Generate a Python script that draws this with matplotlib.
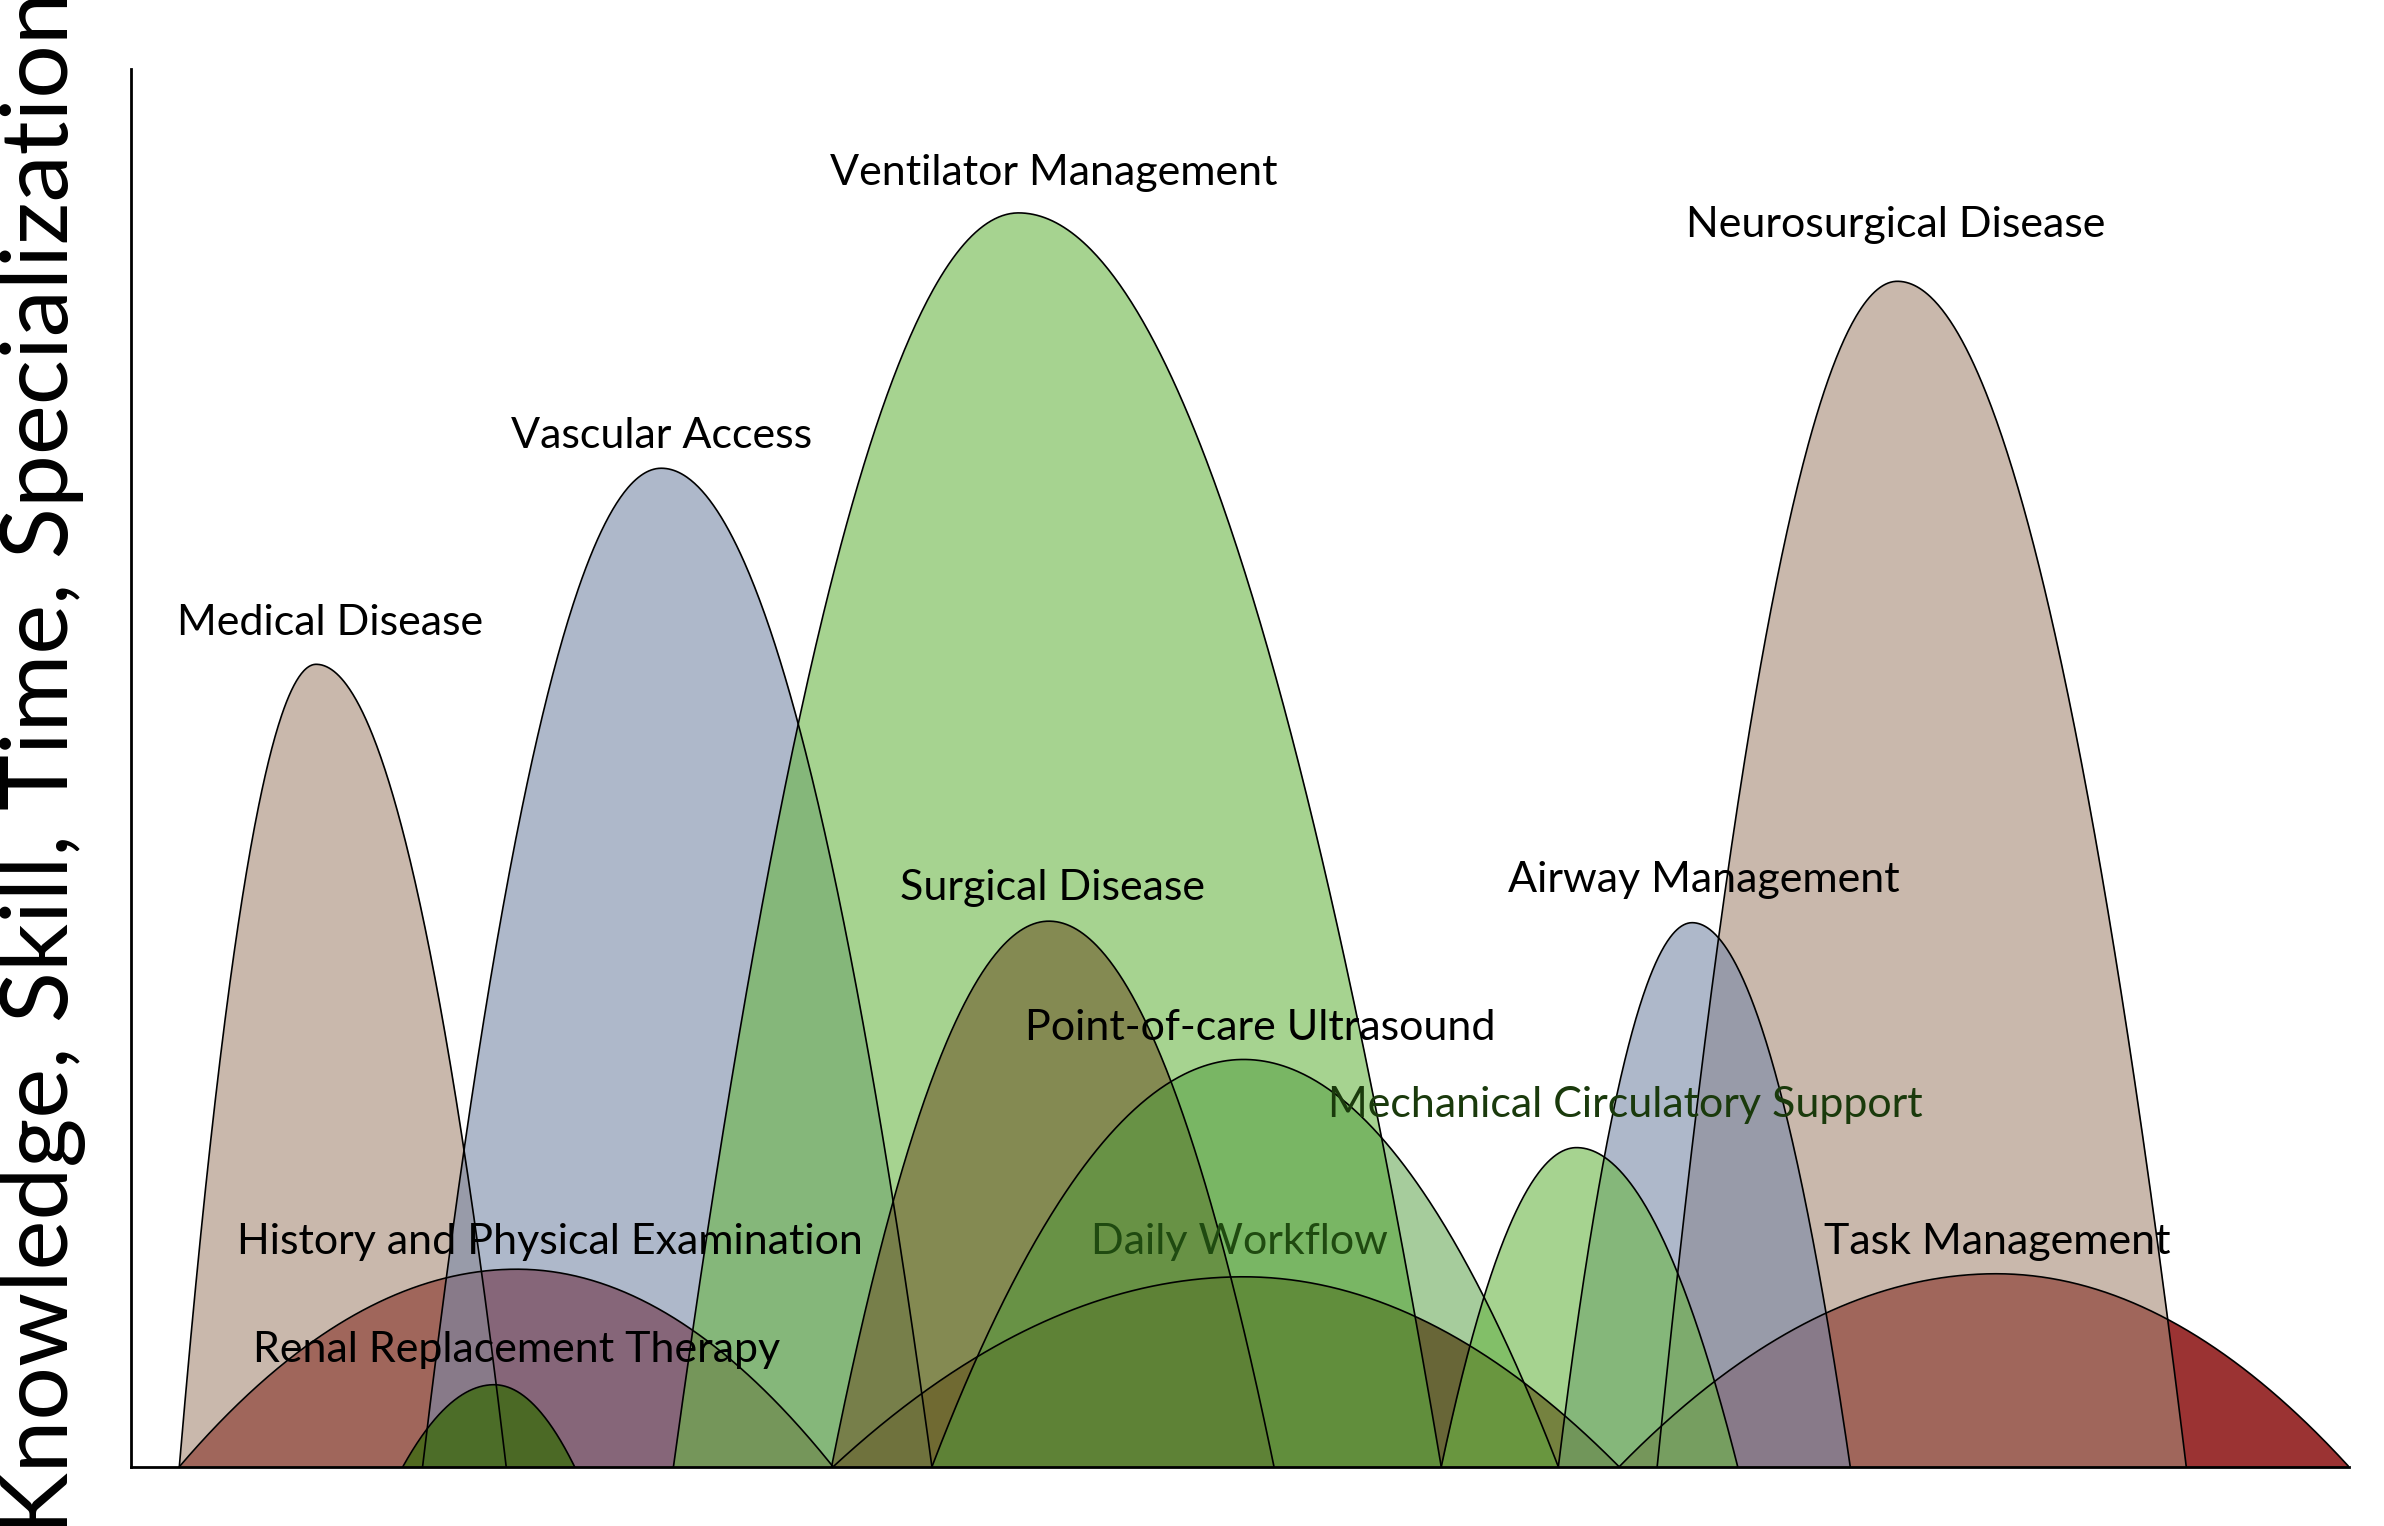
import numpy as np
import matplotlib.pyplot as plt

labels = ["History and Physical Examination","Daily Workflow","Task Management",
          "Medical Disease","Vascular Access","Ventilator Management","Neurosurgical Disease",
          "Surgical Disease","Airway Management","Point-of-care Ultrasound","Mechanical Circulatory Support",
          "Renal Replacement Therapy"]
starts = [32, 462, 979, 32, 192, 357, 1004, 461, 939, 527, 862, 179]
peaks_x = [254, 732, 1227, 122, 349, 584, 1162, 604, 1027, 732, 951, 239]
ends = [462, 979, 1459, 247, 527, 862, 1352, 752, 1131, 939, 1057, 292]
heights = [130, 125, 127, 528, 657, 825, 780, 359, 358, 268, 210, 54]
label_x = [276, 729, 1228, 131, 349, 607, 1161, 606, 1035, 743, 983, 254]
label_y = [148, 148, 148, 555, 678, 851, 817, 381, 386, 289, 238, 77]
colors = ["#8a0f0f","#6e0f12","#8a0f0f",
          "#a58976","#7889a8","#6bb746","#a58976","#6e5a2a","#7889a8","#4e9a3a","#6bb746","#3d6a10"]
alphas = [0.85,0.85,0.85,0.6,0.6,0.6,0.6,0.6,0.6,0.5,0.6,0.8]
text_colors = ["black","#1f4a10","black","black","black","black","black","black","black","black",
               "#1a3a0c","black"]

fig = plt.figure(figsize=(23.84,15.26), dpi=100)
ax = fig.add_axes([0.0548,0.0388,0.9305,0.9163])
for i in range(len(labels)):
    s,p,e,h = starts[i],peaks_x[i],ends[i],heights[i]
    x = np.linspace(s,e,400)
    y = np.where(x<p, h*(1-((x-p)/(p-s))**2), h*(1-((x-p)/(e-p))**2))
    ax.fill_between(x,0,y,color=colors[i],alpha=alphas[i],zorder=2,lw=0)
    ax.plot(x,y,color='black',lw=1.2,zorder=3)
    ax.text(label_x[i],label_y[i],labels[i],ha='center',va='center',fontsize=31,
            family='Lato',color=text_colors[i],zorder=5)
ax.set_xlim(0,1459)
ax.set_ylim(0,920)
ax.set_xticks([]); ax.set_yticks([])
for sp in ['top','right']:
    ax.spines[sp].set_visible(False)
ax.spines['left'].set_linewidth(2)
ax.spines['bottom'].set_linewidth(2)
fig.text(0.018,0.5,"Knowledge, Skill, Time, Specialization",rotation=90,ha='center',va='center',
         fontsize=68,family='Lato')
fig.savefig("out.png",dpi=100)
